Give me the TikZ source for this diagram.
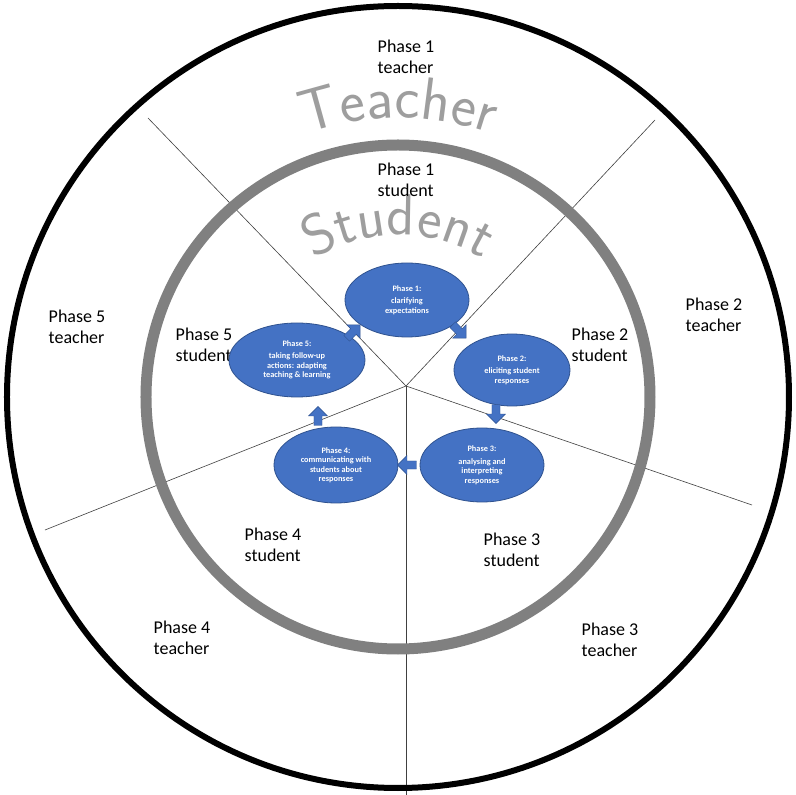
\documentclass[tikz,border=0pt]{standalone}
\usepackage{fontspec}
\setmainfont{Carlito}
\usetikzlibrary{shapes.geometric,shapes.arrows,decorations.text}
\definecolor{pblue}{HTML}{4472C4}
\definecolor{pedge}{HTML}{2F528F}
\begin{document}
\begin{tikzpicture}[x=1pt,y=1pt,
  lbl/.style={font=\fontsize{18}{21}\selectfont, align=left},
  ph/.style={ellipse, fill=pblue, draw=pedge, line width=0.8pt, text=white, align=center, font=\bfseries\fontsize{8.3}{9.5}\selectfont, inner sep=0pt},
  barrow/.style={single arrow, fill=pblue, draw=pedge, minimum height=19pt, minimum width=19pt, single arrow head extend=3pt, inner sep=2pt}]
\useasboundingbox (-398,-398) rectangle (398,397);
\fill[white] (-398,-398) rectangle (398,397);
\coordinate (c) at (8,11);
\coordinate (e1) at (-250,279);
\coordinate (e2) at (257,277);
\coordinate (e3) at (354,-108);
\coordinate (e4) at (8,-398);
\coordinate (e5) at (-353,-133);
\foreach \e in {e1,e2,e3,e4,e5} \draw[line width=0.6pt, black!75] (c) -- (\e);
\draw[line width=11pt, black!50] (0,0) circle (252);
\draw[line width=6pt] (0,0) circle (391);
\path[decorate, decoration={text along path, text align=center, text={|\fontsize{60}{60}\sffamily\color{black!38}|Teacher}}] (150:279) arc[start angle=150, end angle=30, radius=279];
\path[decorate, decoration={text along path, text align=center, text={|\fontsize{58}{58}\sffamily\color{black!38}|Student}}] (140:162) arc[start angle=140, end angle=40, radius=162];
\node[lbl] (p1t) at (8,340) {Phase 1\\teacher};
\node[lbl] (p1s) at (8,217) {Phase 1\\student};
\node[lbl] (p2t) at (316,82) {Phase 2\\teacher};
\node[lbl] (p2s) at (202,52) {Phase 2\\student};
\node[lbl] (p3s) at (114,-153) {Phase 3\\student};
\node[lbl] (p3t) at (212,-243) {Phase 3\\teacher};
\node[lbl] (p4s) at (-125,-148) {Phase 4\\student};
\node[lbl] (p4t) at (-216,-241) {Phase 4\\teacher};
\node[lbl] (p5t) at (-321,70) {Phase 5\\teacher};
\node[lbl] (p5s) at (-194,52) {Phase 5\\student};
\node[ph, minimum width=124pt, minimum height=74pt] (q1) at (9,97) {Phase 1:\\[3pt]clarifying\\expectations};
\node[ph, minimum width=116pt, minimum height=72pt] (q2) at (114,27) {Phase 2:\\[3pt]eliciting student\\responses};
\node[ph, minimum width=124pt, minimum height=74pt] (q3) at (84,-68) {Phase 3:\\[3pt]analysing and\\interpreting\\responses};
\node[ph, minimum width=124pt, minimum height=76pt] (q4) at (-62,-68) {Phase 4:\\communicating with\\students about\\responses};
\node[ph, minimum width=136pt, minimum height=74pt] (q5) at (-101,37) {Phase 5:\\[3pt]taking follow-up\\actions: adapting\\teaching \& learning};
\node[barrow, rotate=-45] (a12) at (60,67) {};
\node[barrow, rotate=-90] (a23) at (98,-15) {};
\node[barrow, rotate=180] (a34) at (11,-68) {};
\node[barrow, rotate=90] (a45) at (-80,-21) {};
\node[barrow, rotate=45] (a51) at (-46,64) {};
\end{tikzpicture}
\end{document}
